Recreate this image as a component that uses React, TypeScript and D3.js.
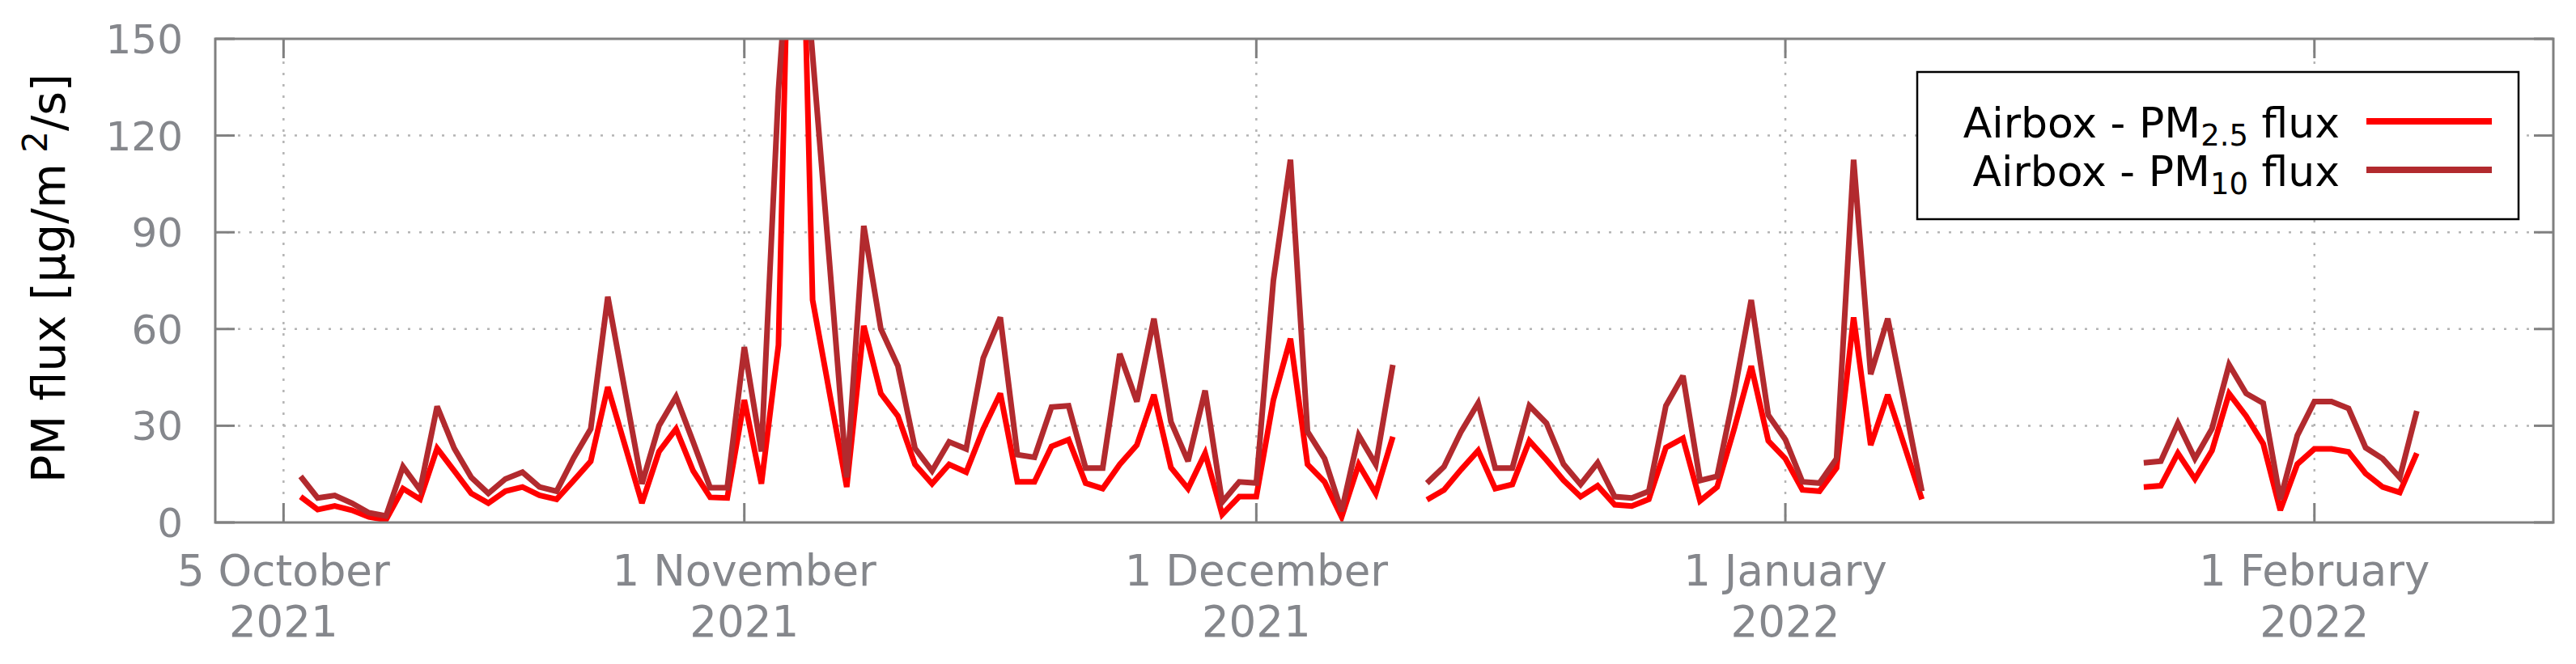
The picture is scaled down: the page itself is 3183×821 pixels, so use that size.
import React from 'react';
import * as d3 from 'd3';

const W = 3183;
const H = 821;

// ---- data (daily PM fluxes, µg/m²/s) ----
const seg1Start = '2021-10-06';
const pm25Seg1 = [8.0, 4.0, 5.1, 3.8, 1.7, 0.8, 10.5, 7.2, 23, 16, 9, 6, 9.7, 11, 8.4, 7.2, 13, 19, 42, 24, 6, 22, 29, 16, 7.8, 7.6, 38, 12, 55, 280, 69, 40, 11, 61, 40, 33, 18, 12, 18, 15.6, 29, 40, 12.6, 12.6, 23.6, 25.7, 12.2, 10.5, 18, 24, 39.6, 17, 10.5, 21.5, 2.5, 8, 8, 38, 57, 18, 12.6, 1.7, 18, 9, 26.6];
const pm10Seg1 = [14.3, 7.6, 8.4, 6, 3, 2, 17.3, 10.1, 36, 23, 14, 9, 13.5, 15.6, 11, 9.7, 20, 29, 70, 41, 12, 30, 39, 25, 10.8, 10.8, 54.4, 22, 134, 210, 145, 80, 14, 92, 60, 48.5, 23, 16, 25, 22.8, 51, 63.6, 21, 20.2, 35.8, 36.2, 16.9, 16.9, 52.3, 37.5, 63.2, 31.2, 19, 40.9, 6.3, 12.6, 12.2, 75, 112.5, 28.2, 19.8, 3.5, 27, 18, 48.9];

const seg2Start = '2021-12-11';
const pm25Seg2 = [7, 10.1, 16.4, 22.3, 10.5, 11.8, 25.3, 19.4, 13.1, 8, 11.4, 5.5, 5.1, 7.2, 23.2, 26.1, 6.7, 11, 29, 48.5, 25.3, 19.8, 10.1, 9.7, 16.9, 63.6, 24, 39.6, 23.4, 7.2];
const pm10Seg2 = [12.2, 17.3, 28.2, 37, 16.9, 16.9, 36.2, 30.8, 18.1, 11.8, 18.5, 8, 7.6, 9.7, 36.2, 45.5, 13, 14.3, 40, 69, 33.3, 25.7, 12.6, 12.2, 19.8, 112.5, 46, 63.2, 36.5, 9.7];

const seg3Start = '2022-01-22';
const pm25Seg3 = [11, 11.4, 21.5, 13.5, 22.3, 40, 33, 24.4, 3.8, 18.1, 22.8, 22.8, 21.9, 15.2, 11, 9.3, 21.5];
const pm10Seg3 = [18.5, 19, 30.8, 19.8, 29.1, 48.9, 40, 37, 7.2, 27, 37.5, 37.5, 35.4, 23.2, 19.8, 13.9, 34.6];

const yTicks = [0, 30, 60, 90, 120, 150];
const xTickDates = ['2021-10-05', '2021-11-01', '2021-12-01', '2022-01-01', '2022-02-01'];
const xTickLine1 = ['5 October', '1 November', '1 December', '1 January', '1 February'];
const xTickLine2 = ['2021', '2021', '2021', '2022', '2022'];
const xDomain = ['2021-10-01', '2022-02-15'];

const COLOR_25 = '#ff0000';
const COLOR_10 = '#b22a2e';
const FONT = 'DejaVu Sans, sans-serif';

const parse = d3.utcParse('%Y-%m-%d');

type Pt = { date: Date; v: number };
function build(start: string, values: number[]): Pt[] {
  const s = parse(start) as Date;
  return values.map((v, i) => ({ date: d3.utcDay.offset(s, i), v }));
}

export default function App() {
  const L = 266, R = 3155, T = 48, B = 646;
  const x = d3.scaleUtc().domain(xDomain.map((d) => parse(d) as Date)).range([L, R]);
  const y = d3.scaleLinear().domain([0, 150]).range([B, T]);
  const line = d3.line<Pt>().x((d) => x(d.date)).y((d) => y(d.v));

  const seg25 = [build(seg1Start, pm25Seg1), build(seg2Start, pm25Seg2), build(seg3Start, pm25Seg3)];
  const seg10 = [build(seg1Start, pm10Seg1), build(seg2Start, pm10Seg2), build(seg3Start, pm10Seg3)];

  const tickLen = 24;
  const gridColor = '#b4b4b4';
  const axisColor = '#808080';
  const labelColor = '#85878c';

  return (
    <svg width={W} height={H} style={{ position: 'absolute', left: 0, top: 0, background: '#fff' }} fontFamily={FONT}>
      <defs>
        <clipPath id="plot">
          <rect x={L} y={T} width={R - L} height={B - T} />
        </clipPath>
      </defs>
      <rect x={0} y={0} width={W} height={H} fill="#fff" />
      {/* grid */}
      {yTicks.filter((t) => t > 0 && t < 150).map((t) => (
        <line key={'gy' + t} x1={L} x2={R} y1={y(t)} y2={y(t)} stroke={gridColor} strokeWidth={2.5} strokeDasharray="3,11" />
      ))}
      {xTickDates.map((d) => {
        const xx = x(parse(d) as Date);
        return <line key={'gx' + d} x1={xx} x2={xx} y1={T} y2={B} stroke={gridColor} strokeWidth={2.5} strokeDasharray="3,11" />;
      })}
      {/* ticks */}
      {yTicks.map((t) => (
        <g key={'ty' + t}>
          <line x1={L} x2={L + tickLen} y1={y(t)} y2={y(t)} stroke={axisColor} strokeWidth={3} />
          <line x1={R} x2={R - tickLen} y1={y(t)} y2={y(t)} stroke={axisColor} strokeWidth={3} />
          <text x={226} y={y(t)} dy="0.36em" textAnchor="end" fontSize={50} fill={labelColor}>{t}</text>
        </g>
      ))}
      {xTickDates.map((d, i) => {
        const xx = x(parse(d) as Date);
        return (
          <g key={'tx' + d}>
            <line x1={xx} x2={xx} y1={B} y2={B - tickLen} stroke={axisColor} strokeWidth={3} />
            <line x1={xx} x2={xx} y1={T} y2={T + tickLen} stroke={axisColor} strokeWidth={3} />
            <text x={xx} y={724} textAnchor="middle" fontSize={53} fill={labelColor}>{xTickLine1[i]}</text>
            <text x={xx} y={787} textAnchor="middle" fontSize={53} fill={labelColor}>{xTickLine2[i]}</text>
          </g>
        );
      })}
      {/* data */}
      <g clipPath="url(#plot)" fill="none" strokeLinejoin="miter" strokeMiterlimit={3}>
        {seg25.map((s, i) => (
          <path key={'a' + i} d={line(s) || ''} stroke={COLOR_25} strokeWidth={7} />
        ))}
        {seg10.map((s, i) => (
          <path key={'b' + i} d={line(s) || ''} stroke={COLOR_10} strokeWidth={7} />
        ))}
      </g>
      {/* border */}
      <rect x={L} y={T} width={R - L} height={B - T} fill="none" stroke={axisColor} strokeWidth={3} />
      {/* y label */}
      <text transform="translate(80,344) rotate(-90)" textAnchor="middle" fontSize={57} fill="#000">
        PM flux [µg/m<tspan dy={-22} fontSize={42}> 2</tspan><tspan dy={22}>/s]</tspan>
      </text>
      {/* legend */}
      <rect x={2369} y={89} width={743} height={182} fill="#fff" stroke="#000" strokeWidth={2.5} />
      <text x={2891} y={170} textAnchor="end" fontSize={52} fill="#000">
        Airbox - PM<tspan dy={10} fontSize={37}>2.5</tspan><tspan dy={-10}> flux</tspan>
      </text>
      <line x1={2924} x2={3079} y1={150} y2={150} stroke={COLOR_25} strokeWidth={8} />
      <text x={2891} y={230} textAnchor="end" fontSize={52} fill="#000">
        Airbox - PM<tspan dy={10} fontSize={37}>10</tspan><tspan dy={-10}> flux</tspan>
      </text>
      <line x1={2924} x2={3079} y1={210} y2={210} stroke={COLOR_10} strokeWidth={8} />
    </svg>
  );
}
